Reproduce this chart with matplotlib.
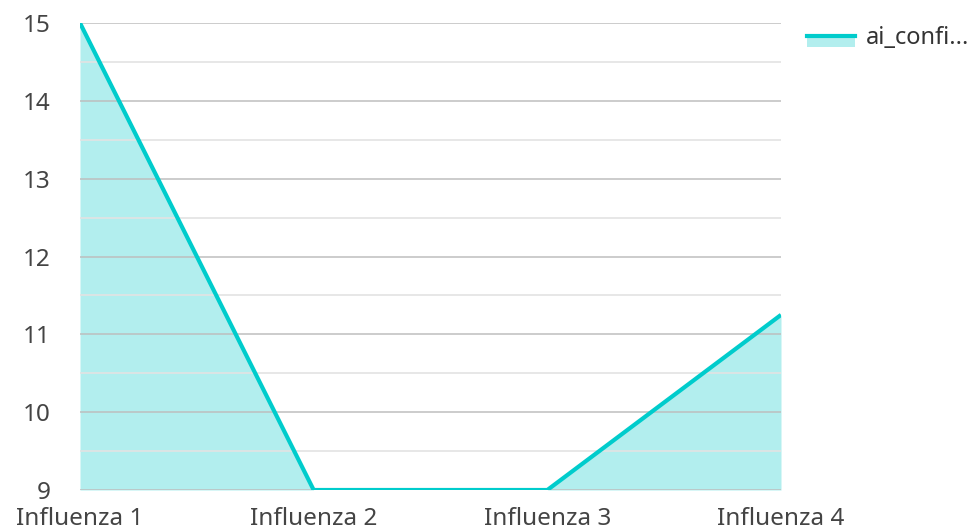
import matplotlib.pyplot as plt
from matplotlib.lines import Line2D

categories = ['Influenza 1', 'Influenza 2', 'Influenza 3', 'Influenza 4']
values = [15, 9, 9, 11.25]
series_name = 'ai_confi...'

plt.rcParams['font.family'] = ['Noto Sans', 'DejaVu Sans']

fig = plt.figure(figsize=(9.76, 5.31), dpi=100)
ax = fig.add_axes([80/976, 1 - 490/531, (781 - 80)/976, (490 - 23)/531])

x = list(range(len(categories)))
ax.fill_between(x, values, 9, color='#b2eeee', linewidth=0, zorder=1)
ax.plot(x, values, color='#00cccc', linewidth=3, zorder=3, solid_capstyle='butt')

ax.set_xlim(0, 3)
ax.set_ylim(9, 15)
ax.set_yticks(range(9, 16))
ax.set_yticks([9.5 + i for i in range(6)], minor=True)
ax.set_xticks(x)
ax.set_xticklabels(categories)

ax.grid(axis='y', which='major', color='#bdbdbd', linewidth=1.2, zorder=2, alpha=0.9)
ax.grid(axis='y', which='minor', color='#e3e3e3', linewidth=1.2, zorder=2)
ax.set_axisbelow(False)
for s in ax.spines.values():
    s.set_visible(False)
ax.tick_params(axis='both', which='both', length=0, labelsize=17.5, labelcolor='#444444')
ax.tick_params(axis='y', pad=21)
ax.tick_params(axis='x', pad=12)

# legend
fig.add_artist(plt.Rectangle((807/976, 1 - 47/531), 48/976, 10/531,
                             transform=fig.transFigure, facecolor='#b2eeee',
                             edgecolor='none'))
fig.add_artist(Line2D([807/976, 855/976], [1 - 36/531, 1 - 36/531],
                      transform=fig.transFigure, color='#00cccc', linewidth=3))
fig.text(866/976, 1 - 38/531, series_name, fontsize=17, color='#333333',
         va='center', ha='left')

fig.savefig('out.png', dpi=100)
